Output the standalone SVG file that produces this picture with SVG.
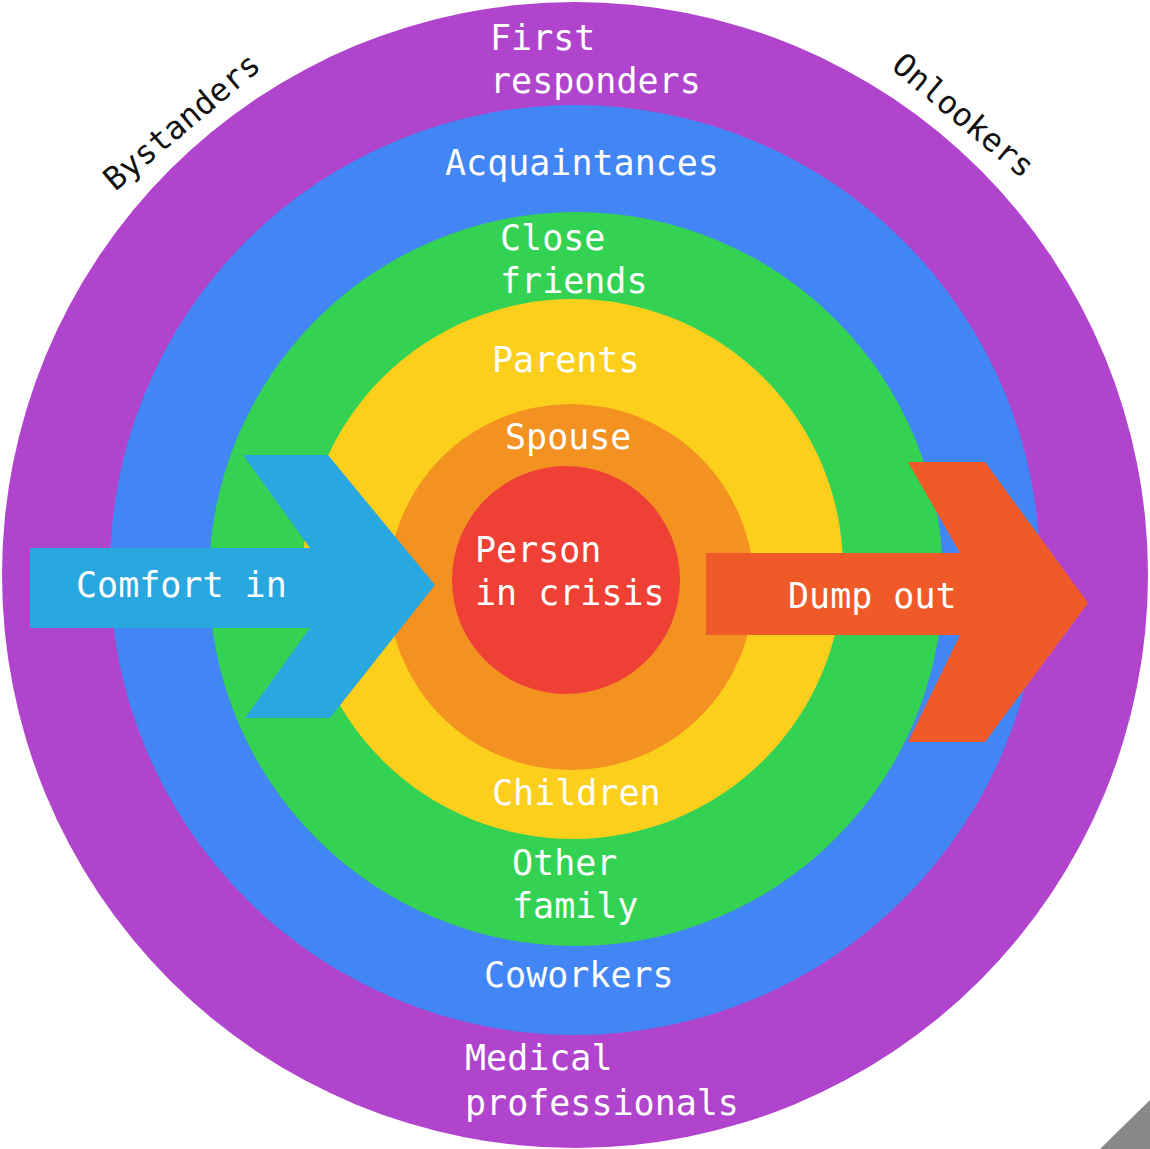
<svg xmlns="http://www.w3.org/2000/svg" width="1150" height="1149" viewBox="0 0 1150 1149">
<style>
.t{font-family:"DejaVu Sans Mono","Liberation Mono",monospace;font-size:35px;fill:#fff;font-weight:500}
.k{font-family:"DejaVu Sans Mono","Liberation Mono",monospace;font-size:32px;fill:#111}
</style>
<rect width="1150" height="1149" fill="#fff"/>
<circle cx="575" cy="575" r="573" fill="#b044cc"/>
<circle cx="575" cy="570" r="465" fill="#4285f4"/>
<circle cx="576" cy="579" r="367" fill="#34d253"/>
<circle cx="573" cy="569" r="270" fill="#fbcf1c"/>
<circle cx="571" cy="587" r="183" fill="#f39121"/>
<circle cx="566" cy="580" r="114" fill="#ee4035"/>
<g id="comfort">
<path d="M30,548 H310 L243,455 H328 L435,585 L330,718 H245 L310,628 H30 Z" fill="#29a8e0"/>
</g>
<g id="dump">
<path d="M706,553 H960 L908,462 H985 L1088,603 L985,742 H908 L960,635 H706 Z" fill="#f05a28"/>
</g>
<path d="M1150,1100 V1149 H1100 Z" fill="#888"/>
<text class="t" x="490" y="50">First</text>
<text class="t" x="490" y="93">responders</text>
<text class="t" x="445" y="175">Acquaintances</text>
<text class="t" x="500" y="250">Close</text>
<text class="t" x="500" y="293">friends</text>
<text class="t" x="492" y="372">Parents</text>
<text class="t" x="505" y="449">Spouse</text>
<text class="t" x="475" y="562">Person</text>
<text class="t" x="475" y="605">in crisis</text>
<text class="t" x="76" y="597">Comfort in</text>
<text class="t" x="788" y="608">Dump out</text>
<text class="t" x="492" y="805">Children</text>
<text class="t" x="512" y="875">Other</text>
<text class="t" x="512" y="918">family</text>
<text class="t" x="484" y="987">Coworkers</text>
<text class="t" x="465" y="1070">Medical</text>
<text class="t" x="465" y="1115">professionals</text>
<text class="k" transform="translate(115,192) rotate(-40)">Bystanders</text>
<text class="k" transform="translate(890,68) rotate(40)">Onlookers</text>
</svg>
